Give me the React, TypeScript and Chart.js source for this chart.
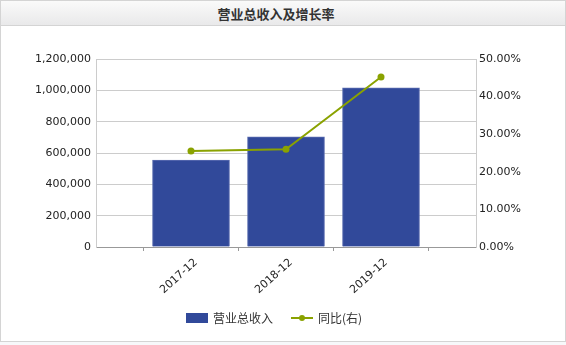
import React, { useEffect, useRef } from "react";
import { Chart, registerables } from "chart.js";

Chart.register(...registerables);

const categories = ["", "2017-12", "2018-12", "2019-12", ""];
const revenue = [null, 555500, 702800, 1016700, null];
const growth = [null, 25.55, 26.0, 45.2, null];
const leftTicks = [0, 200000, 400000, 600000, 800000, 1000000, 1200000];
const rightTicks = [0, 10, 20, 30, 40, 50];
const title = "营业总收入及增长率";
const revenueLabel = "营业总收入";
const growthLabel = "同比(右)";

const BAR = "#31499a";
const LINE = "#8aa200";
const FONT = "'DejaVu Sans', Verdana, sans-serif";
const CJK = "'Noto Sans CJK SC', sans-serif";

export default function App() {
  const ref = useRef<HTMLCanvasElement>(null);
  useEffect(() => {
    document.body.style.margin = "0";
    const chart = new Chart(ref.current!, {
      type: "bar",
      data: {
        labels: categories,
        datasets: [
          {
            type: "line",
            label: growthLabel,
            data: growth as any,
            yAxisID: "y1",
            borderColor: LINE,
            backgroundColor: LINE,
            borderWidth: 2,
            pointRadius: 3.5,
            pointBackgroundColor: LINE,
            pointBorderWidth: 0,
            order: 0,
            clip: false as any,
          } as any,
          {
            type: "bar",
            label: revenueLabel,
            data: revenue as any,
            yAxisID: "y",
            backgroundColor: BAR,
            borderColor: "#5b6db0",
            borderWidth: 1,
            barThickness: 77,
            order: 1,
          } as any,
        ],
      },
      options: {
        animation: false,
        responsive: false,
        maintainAspectRatio: false,
        layout: { padding: { top: 33, left: 0, right: 0, bottom: 0 } },
        plugins: { legend: { display: false }, tooltip: { enabled: false } },
        scales: {
          x: {
            offset: false,
            grid: { drawOnChartArea: false, drawTicks: true, tickLength: 4, color: "#999" },
            border: { color: "#999", width: 1 },
            ticks: {
              autoSkip: false,
              maxRotation: 42,
              minRotation: 42,
              color: "#222",
              padding: 5,
              labelOffset: 5,
              font: { family: FONT, size: 11 },
            },
            afterFit: (s: any) => {
              s.height = 94;
            },
          },
          y: {
            position: "left",
            min: 0,
            max: 1200000,
            afterBuildTicks: (s: any) => {
              s.ticks = leftTicks.map((v) => ({ value: v }));
            },
            grid: { color: "#ccc", drawTicks: false },
            border: { color: "#ccc" },
            ticks: {
              color: "#222",
              padding: 5,
              font: { family: FONT, size: 11 },
              callback: (v: any) => Number(v).toLocaleString("en-US"),
            },
            afterFit: (s: any) => {
              s.width = 95;
            },
          },
          y1: {
            position: "right",
            min: 0,
            max: 50,
            afterBuildTicks: (s: any) => {
              s.ticks = rightTicks.map((v) => ({ value: v }));
            },
            grid: { display: false, drawTicks: false },
            border: { color: "#ccc" },
            ticks: {
              color: "#222",
              padding: 3,
              font: { family: FONT, size: 11 },
              callback: (v: any) => Number(v).toFixed(2) + "%",
            },
            afterFit: (s: any) => {
              s.width = 89;
            },
          },
        },
      },
    });
    return () => chart.destroy();
  }, []);

  return (
    <div
      style={{
        position: "fixed",
        left: 0,
        top: 0,
        width: 566,
        height: 345,
        background: "#f7f8fa",
      }}
    >
      <div
        style={{
          position: "absolute",
          left: 0,
          top: 0,
          width: 564,
          height: 340,
          border: "1px solid #d4d4d4",
          background: "#fff",
        }}
      >
        <div
          style={{
            height: 24,
            borderBottom: "1px solid #d4d4d4",
            background: "linear-gradient(#fafafa, #e9e9ea)",
            textAlign: "center",
            fontFamily: CJK,
            fontSize: 13,
            fontWeight: 700,
            color: "#333",
            lineHeight: "25px",
            paddingRight: 14,
          }}
        >
          {title}
        </div>
        <canvas
          ref={ref}
          width={564}
          height={315}
          style={{ position: "absolute", left: 0, top: 25, width: 564, height: 315 }}
        />
        <div
          style={{
            position: "absolute",
            top: 309,
            left: 185,
            display: "flex",
            alignItems: "center",
            fontFamily: CJK,
            fontSize: 12,
            color: "#333",
            lineHeight: "16px",
          }}
        >
          <span style={{ display: "inline-block", width: 22, height: 10, background: BAR }} />
          <span style={{ marginLeft: 5 }}>{revenueLabel}</span>
          <span
            style={{
              position: "relative",
              display: "inline-block",
              width: 22,
              height: 2,
              background: LINE,
              marginLeft: 18,
            }}
          >
            <span
              style={{
                position: "absolute",
                left: 8,
                top: -2,
                width: 6,
                height: 6,
                borderRadius: 3,
                background: LINE,
              }}
            />
          </span>
          <span style={{ marginLeft: 5 }}>{growthLabel}</span>
        </div>
      </div>
    </div>
  );
}
